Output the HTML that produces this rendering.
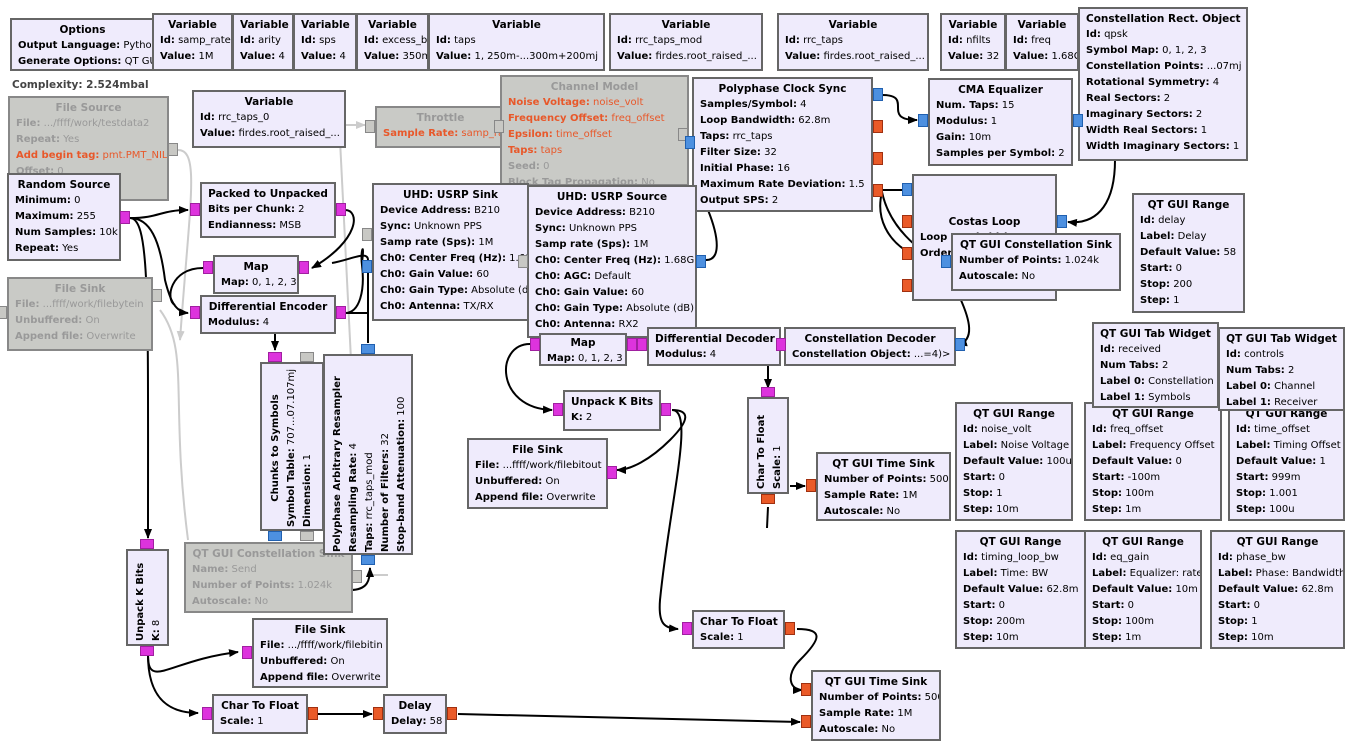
<!DOCTYPE html><html><head><meta charset="utf-8"><style>
body{margin:0;width:1356px;height:750px;background:#fff;position:relative;overflow:hidden;font-family:"DejaVu Sans","Liberation Sans",sans-serif;}
.b{position:absolute;border:2px solid #666;background:#efebfc;font-size:10px;line-height:16px;padding:2px 6px;white-space:nowrap;overflow:hidden;box-sizing:border-box;color:#000;z-index:2}
.b div:first-child{font-weight:bold;text-align:center;font-size:10.5px}
.g{background:#c9cac6;color:#999;border-color:#888}
.g b.r{color:#e8582a}.g .rr{color:#e8582a}
.p{position:absolute;width:10px;height:13px;box-sizing:border-box;border:1px solid;z-index:3}
.m{background:#dd33dd;border-color:#a020a0}.u{background:#4d90e0;border-color:#2060b0}.o{background:#ea5a28;border-color:#a03010}.q{background:#c8c8c4;border-color:#888}
.rot{position:absolute;left:0;top:0;transform-origin:0 0;transform:rotate(-90deg);white-space:nowrap}
svg{position:absolute;left:0;top:0;z-index:1}
.top{z-index:4}
</style></head><body>
<svg width="1356" height="750"><defs><marker id="a" markerWidth="10" markerHeight="8" refX="9" refY="4" orient="auto" markerUnits="userSpaceOnUse"><path d="M0,0L10,4L0,8z" fill="#000"/></marker><marker id="ag" markerWidth="10" markerHeight="8" refX="9" refY="4" orient="auto" markerUnits="userSpaceOnUse"><path d="M0,0L10,4L0,8z" fill="#ccc"/></marker></defs>
<g fill="none" stroke="#ccc" stroke-width="2">
<path d="M178,150 C200,150 190,200 180,340" marker-end="url(#ag)"/>
<path d="M340,140 L360,540"/><path d="M345,125 L365,125" marker-end="url(#ag)"/>
<path d="M160,310 C190,350 170,400 188,540"/>
<path d="M370,575 L388,575"/>
</g>
<g fill="none" stroke="#000" stroke-width="2">
<path d="M130,218 C160,218 160,210 188,210" marker-end="url(#a)"/>
<path d="M130,218 C150,218 160,240 165,280 C170,300 175,312 188,313" marker-end="url(#a)"/>
<path d="M130,218 C150,218 148,300 148,538" marker-end="url(#a)"/>
<path d="M203,268 C170,268 165,300 175,305"/>
<path d="M345,210 C360,210 360,240 312,268" marker-end="url(#a)"/>
<path d="M345,313 C360,313 365,290 362,265 C360,250 365,240 362,262" />
<path d="M275,333 L275,350" marker-end="url(#a)"/>
<path d="M368,343 L368,260 C368,250 350,260 332,263"/>
<path d="M345,313 L368,313"/>
<path d="M350,590 C368,590 370,580 370,568" marker-end="url(#a)"/>
<path d="M148,655 C148,690 170,660 238,652" marker-end="url(#a)"/>
<path d="M148,655 C148,700 170,713 198,713" marker-end="url(#a)"/>
<path d="M318,714 L372,714" marker-end="url(#a)"/>
<path d="M458,714 L800,722" marker-end="url(#a)"/>
<path d="M706,260 C720,260 720,240 708,210"/>
<path d="M530,344 C495,344 495,408 552,410" marker-end="url(#a)"/>
<path d="M672,410 C690,410 690,420 670,440 C650,460 630,470 617,470" marker-end="url(#a)"/>
<path d="M672,410 C695,410 670,500 660,600 C658,625 665,628 678,629" marker-end="url(#a)"/>
<path d="M797,629 C825,629 820,640 800,660 C785,675 790,690 802,690" marker-end="url(#a)"/>
<path d="M882,95 C915,95 880,120 917,120" marker-end="url(#a)"/>
<path d="M882,190 L902,190"/>
<path d="M882,192 C890,230 920,250 945,268"/>
<path d="M882,192 C875,220 890,240 905,250"/>
<path d="M1115,160 C1115,200 1100,225 1068,222" marker-end="url(#a)"/>
<path d="M960,298 C970,320 975,340 958,345" marker-end="url(#a)"/>
<path d="M768,365 L768,388" marker-end="url(#a)"/>
<path d="M768,507 L767,528"/>
<path d="M790,486 L805,486" marker-end="url(#a)"/>
<path d="M690,138 C700,140 695,145 693,142"/>
</g></svg>

<div class="b" style="left:10px;top:18px;width:145px;height:53px"><div>Options</div><b>Output Language:</b> Python<br><b>Generate Options:</b> QT GUI</div>
<div class="b" style="left:152px;top:13px;width:81px;height:58px"><div>Variable</div><b>Id:</b> samp_rate<br><b>Value:</b> 1M</div>
<div class="b" style="left:232px;top:13px;width:62px;height:58px"><div>Variable</div><b>Id:</b> arity<br><b>Value:</b> 4</div>
<div class="b" style="left:293px;top:13px;width:64px;height:58px"><div>Variable</div><b>Id:</b> sps<br><b>Value:</b> 4</div>
<div class="b" style="left:356px;top:13px;width:73px;height:58px"><div>Variable</div><b>Id:</b> excess_bw<br><b>Value:</b> 350m</div>
<div class="b" style="left:428px;top:13px;width:177px;height:58px"><div>Variable</div><b>Id:</b> taps<br><b>Value:</b> 1, 250m-...300m+200mj</div>
<div class="b" style="left:609px;top:13px;width:154px;height:58px"><div>Variable</div><b>Id:</b> rrc_taps_mod<br><b>Value:</b> firdes.root_raised_...</div>
<div class="b" style="left:777px;top:13px;width:152px;height:58px"><div>Variable</div><b>Id:</b> rrc_taps<br><b>Value:</b> firdes.root_raised_...</div>
<div class="b" style="left:940px;top:13px;width:66px;height:58px"><div>Variable</div><b>Id:</b> nfilts<br><b>Value:</b> 32</div>
<div class="b" style="left:1005px;top:13px;width:74px;height:58px"><div>Variable</div><b>Id:</b> freq<br><b>Value:</b> 1.68G</div>
<div class="b" style="left:1078px;top:7px;width:170px;height:154px"><div>Constellation Rect. Object</div><b>Id:</b> qpsk<br><b>Symbol Map:</b> 0, 1, 2, 3<br><b>Constellation Points:</b> ...07mj<br><b>Rotational Symmetry:</b> 4<br><b>Real Sectors:</b> 2<br><b>Imaginary Sectors:</b> 2<br><b>Width Real Sectors:</b> 1<br><b>Width Imaginary Sectors:</b> 1</div>
<div style="position:absolute;left:12px;top:79px;font-size:10.5px;font-weight:bold;color:#444">Complexity: 2.524mbal</div>

<div class="b g" style="left:8px;top:96px;width:161px;height:105px"><div>File Source</div><b>File:</b> .../ffff/work/testdata2<br><b>Repeat:</b> Yes<br><b class="r">Add begin tag:</b> <span class="rr">pmt.PMT_NIL</span><br><b>Offset:</b> 0</div>
<div class="p q" style="left:168px;top:143px"></div>
<div class="b" style="left:192px;top:90px;width:154px;height:58px"><div>Variable</div><b>Id:</b> rrc_taps_0<br><b>Value:</b> firdes.root_raised_...</div>
<div class="b g" style="left:375px;top:106px;width:131px;height:42px"><div>Throttle</div><b class="r">Sample Rate:</b> <span class="rr">samp_rate</span></div>
<div class="p q" style="left:365px;top:120px"></div>
<div class="b g" style="left:500px;top:75px;width:189px;height:111px"><div>Channel Model</div><b class="r">Noise Voltage:</b> <span class="rr">noise_volt</span><br><b class="r">Frequency Offset:</b> <span class="rr">freq_offset</span><br><b class="r">Epsilon:</b> <span class="rr">time_offset</span><br><b class="r">Taps:</b> <span class="rr">taps</span><br><b>Seed:</b> 0<br><b>Block Tag Propagation:</b> No</div>
<div class="p q" style="left:678px;top:128px"></div><div class="p q" style="left:494px;top:120px"></div>

<div class="b" style="left:692px;top:77px;width:181px;height:135px"><div>Polyphase Clock Sync</div><b>Samples/Symbol:</b> 4<br><b>Loop Bandwidth:</b> 62.8m<br><b>Taps:</b> rrc_taps<br><b>Filter Size:</b> 32<br><b>Initial Phase:</b> 16<br><b>Maximum Rate Deviation:</b> 1.5<br><b>Output SPS:</b> 2</div>
<div class="p u" style="left:685px;top:136px"></div>
<div class="p u" style="left:873px;top:88px"></div><div class="p o" style="left:873px;top:120px"></div><div class="p o" style="left:873px;top:152px"></div><div class="p o" style="left:873px;top:184px"></div>
<div class="b" style="left:928px;top:78px;width:145px;height:88px"><div>CMA Equalizer</div><b>Num. Taps:</b> 15<br><b>Modulus:</b> 1<br><b>Gain:</b> 10m<br><b>Samples per Symbol:</b> 2</div>
<div class="p u" style="left:918px;top:114px"></div><div class="p u" style="left:1073px;top:114px"></div>

<div class="b" style="left:7px;top:173px;width:114px;height:88px"><div>Random Source</div><b>Minimum:</b> 0<br><b>Maximum:</b> 255<br><b>Num Samples:</b> 10k<br><b>Repeat:</b> Yes</div>
<div class="p m" style="left:120px;top:211px"></div>
<div class="b" style="left:200px;top:182px;width:136px;height:56px"><div>Packed to Unpacked</div><b>Bits per Chunk:</b> 2<br><b>Endianness:</b> MSB</div>
<div class="p m" style="left:190px;top:203px"></div><div class="p m" style="left:336px;top:203px"></div>
<div class="b" style="left:372px;top:183px;width:157px;height:138px"><div>UHD: USRP Sink</div><b>Device Address:</b> B210<br><b>Sync:</b> Unknown PPS<br><b>Samp rate (Sps):</b> 1M<br><b>Ch0: Center Freq (Hz):</b> 1.68G<br><b>Ch0: Gain Value:</b> 60<br><b>Ch0: Gain Type:</b> Absolute (dB)<br><b>Ch0: Antenna:</b> TX/RX</div>
<div class="p q" style="left:362px;top:228px"></div><div class="p u" style="left:362px;top:260px"></div>
<div class="b" style="left:527px;top:185px;width:170px;height:153px"><div>UHD: USRP Source</div><b>Device Address:</b> B210<br><b>Sync:</b> Unknown PPS<br><b>Samp rate (Sps):</b> 1M<br><b>Ch0: Center Freq (Hz):</b> 1.68G<br><b>Ch0: AGC:</b> Default<br><b>Ch0: Gain Value:</b> 60<br><b>Ch0: Gain Type:</b> Absolute (dB)<br><b>Ch0: Antenna:</b> RX2</div>
<div class="p q" style="left:518px;top:255px"></div><div class="p u" style="left:696px;top:255px"></div>

<div class="b" style="left:912px;top:174px;width:145px;height:127px;padding-top:38px"><div>Costas Loop</div><b>Loop Bandwidth:</b> 62.8m<br><b>Order:</b> 4</div>
<div class="p u" style="left:902px;top:183px"></div><div class="p o" style="left:902px;top:215px"></div><div class="p o" style="left:902px;top:247px"></div><div class="p o" style="left:902px;top:279px"></div><div class="p u" style="left:1057px;top:215px"></div>
<div class="b" style="left:951px;top:233px;width:170px;height:58px"><div>QT GUI Constellation Sink</div><b>Number of Points:</b> 1.024k<br><b>Autoscale:</b> No</div>
<div class="p u" style="left:941px;top:255px"></div>
<div class="b" style="left:1132px;top:193px;width:113px;height:120px"><div>QT GUI Range</div><b>Id:</b> delay<br><b>Label:</b> Delay<br><b>Default Value:</b> 58<br><b>Start:</b> 0<br><b>Stop:</b> 200<br><b>Step:</b> 1</div>

<div class="b" style="left:213px;top:255px;width:86px;height:39px"><div>Map</div><b>Map:</b> 0, 1, 2, 3</div>
<div class="p m" style="left:203px;top:261px"></div><div class="p m" style="left:299px;top:261px"></div>
<div class="b g" style="left:7px;top:277px;width:146px;height:74px"><div>File Sink</div><b>File:</b> ...ffff/work/filebytein<br><b>Unbuffered:</b> On<br><b>Append file:</b> Overwrite</div>
<div class="p q" style="left:-3px;top:306px"></div><div class="p q" style="left:152px;top:289px"></div>
<div class="b" style="left:200px;top:295px;width:136px;height:39px"><div>Differential Encoder</div><b>Modulus:</b> 4</div>
<div class="p m" style="left:190px;top:306px"></div><div class="p m" style="left:336px;top:306px"></div>

<div class="b" style="left:539px;top:333px;width:88px;height:33px;padding-top:0"><div>Map</div><b>Map:</b> 0, 1, 2, 3</div>
<div class="p m" style="left:530px;top:338px"></div><div class="p m" style="left:627px;top:338px"></div>
<div class="b" style="left:647px;top:327px;width:134px;height:39px"><div>Differential Decoder</div><b>Modulus:</b> 4</div>
<div class="p m" style="left:637px;top:338px"></div>
<div class="b" style="left:784px;top:327px;width:172px;height:39px"><div>Constellation Decoder</div><b>Constellation Object:</b> ...=4)&gt;</div>
<div class="p m" style="left:776px;top:338px"></div><div class="p u" style="left:955px;top:338px"></div>
<div class="b" style="left:1092px;top:322px;width:127px;height:86px"><div>QT GUI Tab Widget</div><b>Id:</b> received<br><b>Num Tabs:</b> 2<br><b>Label 0:</b> Constellation<br><b>Label 1:</b> Symbols</div>

<div class="b" style="left:955px;top:402px;width:118px;height:119px"><div>QT GUI Range</div><b>Id:</b> noise_volt<br><b>Label:</b> Noise Voltage<br><b>Default Value:</b> 100u<br><b>Start:</b> 0<br><b>Stop:</b> 1<br><b>Step:</b> 10m</div>
<div class="b" style="left:1084px;top:402px;width:138px;height:119px"><div>QT GUI Range</div><b>Id:</b> freq_offset<br><b>Label:</b> Frequency Offset<br><b>Default Value:</b> 0<br><b>Start:</b> -100m<br><b>Stop:</b> 100m<br><b>Step:</b> 1m</div>
<div class="b" style="left:1228px;top:402px;width:117px;height:119px"><div>QT GUI Range</div><b>Id:</b> time_offset<br><b>Label:</b> Timing Offset<br><b>Default Value:</b> 1<br><b>Start:</b> 999m<br><b>Stop:</b> 1.001<br><b>Step:</b> 100u</div>
<div class="b" style="left:1092px;top:322px;width:127px;height:86px;z-index:3"><div>QT GUI Tab Widget</div><b>Id:</b> received<br><b>Num Tabs:</b> 2<br><b>Label 0:</b> Constellation<br><b>Label 1:</b> Symbols</div>
<div class="b" style="left:1218px;top:327px;width:127px;height:84px;z-index:3"><div>QT GUI Tab Widget</div><b>Id:</b> controls<br><b>Num Tabs:</b> 2<br><b>Label 0:</b> Channel<br><b>Label 1:</b> Receiver</div>

<div class="b" style="left:260px;top:362px;width:64px;height:169px;padding:0"><div class="rot" style="top:163px;left:6px;text-align:left;line-height:16px;font-weight:normal;font-size:10px"><b style="display:block;text-align:center">Chunks to Symbols</b><b>Symbol Table:</b> 707...07.107mj<br><b>Dimension:</b> 1</div></div>
<div class="p m" style="left:268px;top:352px;width:14px;height:10px"></div><div class="p q" style="left:300px;top:352px;width:14px;height:10px"></div>
<div class="p u" style="left:268px;top:531px;width:14px;height:10px"></div><div class="p q" style="left:300px;top:531px;width:14px;height:10px"></div>
<div class="b g" style="left:184px;top:542px;width:169px;height:71px"><div>QT GUI Constellation Sink</div><b>Name:</b> Send<br><b>Number of Points:</b> 1.024k<br><b>Autoscale:</b> No</div>
<div class="p q" style="left:352px;top:570px"></div>
<div class="b" style="left:323px;top:354px;width:90px;height:201px;padding:0"><div class="rot" style="top:196px;left:5px;text-align:left;line-height:16px;font-weight:normal;font-size:10px"><b style="display:block;text-align:center">Polyphase Arbitrary Resampler</b><b>Resampling Rate:</b> 4<br><b>Taps:</b> rrc_taps_mod<br><b>Number of Filters:</b> 32<br><b>Stop-band Attenuation:</b> 100</div></div>
<div class="p u" style="left:361px;top:344px;width:14px;height:10px"></div><div class="p u" style="left:361px;top:555px;width:14px;height:10px"></div>

<div class="b" style="left:563px;top:390px;width:98px;height:41px"><div>Unpack K Bits</div><b>K:</b> 2</div>
<div class="p m" style="left:553px;top:403px"></div><div class="p m" style="left:661px;top:403px"></div>
<div class="b" style="left:467px;top:438px;width:141px;height:71px"><div>File Sink</div><b>File:</b> ...ffff/work/filebitout<br><b>Unbuffered:</b> On<br><b>Append file:</b> Overwrite</div>
<div class="p m" style="left:607px;top:466px"></div>
<div class="b" style="left:747px;top:397px;width:42px;height:97px;padding:0"><div class="rot" style="top:90px;left:5px;text-align:left;line-height:16px;font-weight:normal;font-size:10px"><b style="display:block;text-align:center">Char To Float</b><b>Scale:</b> 1</div></div>
<div class="p m" style="left:761px;top:387px;width:14px;height:10px"></div><div class="p o" style="left:761px;top:494px;width:14px;height:10px"></div>
<div class="b" style="left:816px;top:452px;width:135px;height:69px"><div>QT GUI Time Sink</div><b>Number of Points:</b> 500<br><b>Sample Rate:</b> 1M<br><b>Autoscale:</b> No</div>
<div class="p o" style="left:806px;top:479px"></div>

<div class="b" style="left:955px;top:530px;width:131px;height:119px"><div>QT GUI Range</div><b>Id:</b> timing_loop_bw<br><b>Label:</b> Time: BW<br><b>Default Value:</b> 62.8m<br><b>Start:</b> 0<br><b>Stop:</b> 200m<br><b>Step:</b> 10m</div>
<div class="b" style="left:1084px;top:530px;width:118px;height:119px"><div>QT GUI Range</div><b>Id:</b> eq_gain<br><b>Label:</b> Equalizer: rate<br><b>Default Value:</b> 10m<br><b>Start:</b> 0<br><b>Stop:</b> 100m<br><b>Step:</b> 1m</div>
<div class="b" style="left:1210px;top:530px;width:135px;height:119px"><div>QT GUI Range</div><b>Id:</b> phase_bw<br><b>Label:</b> Phase: Bandwidth<br><b>Default Value:</b> 62.8m<br><b>Start:</b> 0<br><b>Stop:</b> 1<br><b>Step:</b> 10m</div>

<div class="b" style="left:126px;top:549px;width:43px;height:97px;padding:0"><div class="rot" style="top:90px;left:5px;text-align:left;line-height:16px;font-weight:normal;font-size:10px"><b style="display:block;text-align:center">Unpack K Bits</b><b>K:</b> 8</div></div>
<div class="p m" style="left:140px;top:539px;width:14px;height:10px"></div><div class="p m" style="left:140px;top:646px;width:14px;height:10px"></div>
<div class="b" style="left:252px;top:618px;width:136px;height:70px"><div>File Sink</div><b>File:</b> .../ffff/work/filebitin<br><b>Unbuffered:</b> On<br><b>Append file:</b> Overwrite</div>
<div class="p m" style="left:242px;top:646px"></div>
<div class="b" style="left:692px;top:610px;width:93px;height:39px"><div>Char To Float</div><b>Scale:</b> 1</div>
<div class="p m" style="left:682px;top:622px"></div><div class="p o" style="left:785px;top:622px"></div>
<div class="b" style="left:811px;top:670px;width:130px;height:71px"><div>QT GUI Time Sink</div><b>Number of Points:</b> 500<br><b>Sample Rate:</b> 1M<br><b>Autoscale:</b> No</div>
<div class="p o" style="left:801px;top:683px"></div><div class="p o" style="left:801px;top:715px"></div>
<div class="b" style="left:212px;top:694px;width:96px;height:40px"><div>Char To Float</div><b>Scale:</b> 1</div>
<div class="p m" style="left:202px;top:707px"></div><div class="p o" style="left:308px;top:707px"></div>
<div class="b" style="left:383px;top:694px;width:64px;height:40px"><div>Delay</div><b>Delay:</b> 58</div>
<div class="p o" style="left:373px;top:707px"></div><div class="p o" style="left:447px;top:707px"></div>
</body></html>
